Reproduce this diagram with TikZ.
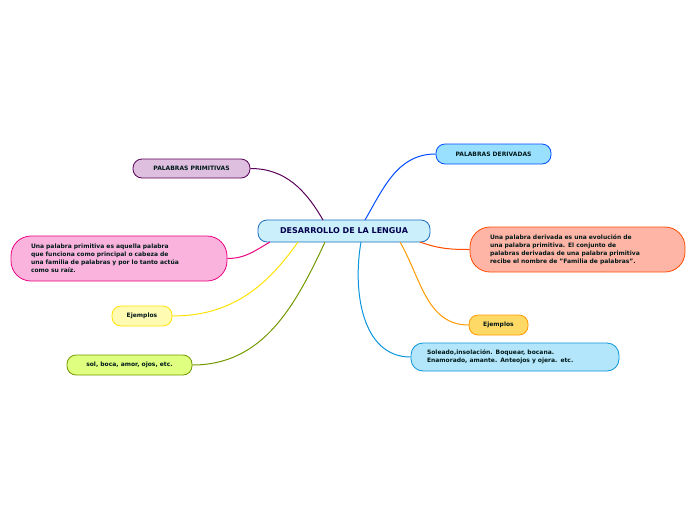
\documentclass[tikz,border=0pt]{standalone}
\usepackage{fontspec}
\setmainfont{DejaVu Sans}
\begin{document}
\begin{tikzpicture}[x=1pt,y=1pt,
  box/.style={rounded corners=9pt,line width=0.8pt,font=\bfseries\fontsize{6}{8}\selectfont,text=black!80!teal,inner sep=0pt,align=left},
  big/.style={box,rounded corners=20pt},
  link/.style={line width=1pt}]
\useasboundingbox (0,0) rectangle (696,-520);
\node[box,fill=cyan!20,draw=cyan!50!blue,minimum width=172,minimum height=22,font=\bfseries\fontsize{8}{10}\selectfont,text=blue!30!black] (c) at (344,-231) {DESARROLLO DE LA LENGUA};
\node[box,fill=violet!25,draw=violet!70!black,minimum width=117,minimum height=19] (pp) at (191.5,-168.5) {PALABRAS PRIMITIVAS};
\node[big,fill=magenta!30,draw=magenta!90!red,minimum width=216,minimum height=45,text width=196] (pd) at (119,-258.5) {\hspace*{10pt}Una palabra primitiva es aquella palabra\\\hspace*{10pt}que funciona como principal o cabeza de\\\hspace*{10pt}una familia de palabras y por lo tanto actúa\\\hspace*{10pt}como su raíz.};
\node[box,fill=yellow!30,draw=yellow!85!orange,minimum width=60,minimum height=20,align=center] (e1) at (142,-316) {Ejemplos};
\node[box,fill=lime!50,draw=lime!60!black,minimum width=125,minimum height=20,align=center] (s1) at (129.5,-365) {sol, boca, amor, ojos, etc.};
\node[box,fill=blue!30!cyan!40,draw=blue!70!cyan,minimum width=115,minimum height=20,align=center] (pdv) at (493.5,-154) {PALABRAS DERIVADAS};
\node[big,fill=orange!35!red!35,draw=orange!60!red,minimum width=215,minimum height=45,text width=195] (dd) at (577.5,-249.5) {\hspace*{10pt}Una palabra derivada es una evolución de\\\hspace*{10pt}una palabra primitiva. El conjunto de\\\hspace*{10pt}palabras derivadas de una palabra primitiva\\\hspace*{10pt}recibe el nombre de "Familia de palabras".};
\node[box,fill=orange!50!yellow!60,draw=orange!80!yellow,minimum width=59,minimum height=20,align=center] (e2) at (498.5,-325) {Ejemplos};
\node[box,fill=cyan!30,draw=cyan!80!blue,minimum width=208,minimum height=28,text width=188,rounded corners=12pt] (s2) at (515,-357) {\hspace*{6pt}Soleado,insolación. Boquear, bocana.\\\hspace*{6pt}Enamorado, amante. Anteojos y ojera. etc.};
\coordinate (a1) at (323,-220);
\coordinate (a2) at (365,-220);
\coordinate (b1) at (270,-242);
\coordinate (b2) at (298,-242);
\coordinate (b3) at (325,-242);
\coordinate (b4) at (420,-242);
\coordinate (b5) at (400,-242);
\coordinate (b6) at (361,-242);
\begin{scope}[on background layer/.style={}]
\end{scope}
\draw[link,violet!70!black] (a1) to[out=120,in=0] (pp.east);
\draw[link,blue!70!cyan] (a2) to[out=60,in=180] (pdv.west);
\draw[link,magenta!90!red] (b1) to[out=210,in=0] (pd.east);
\draw[link,yellow!85!orange] (b2) to[out=235,in=0] (e1.east);
\draw[link,lime!60!black] (b3) to[out=245,in=0] (s1.east);
\draw[link,orange!60!red] (b4) to[out=-20,in=180] (dd.west);
\draw[link,orange!80!yellow] (b5) to[out=-60,in=180] (e2.west);
\draw[link,cyan!80!blue] (b6) to[out=-100,in=180] (s2.west);
\end{tikzpicture}
\end{document}
